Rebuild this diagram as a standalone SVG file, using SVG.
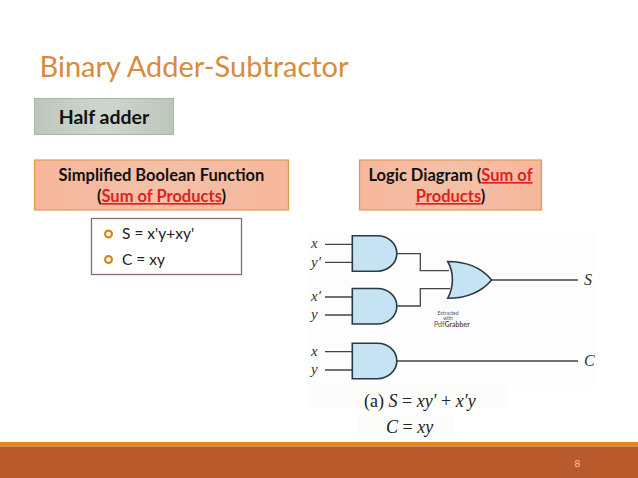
<svg xmlns="http://www.w3.org/2000/svg" width="638" height="478" viewBox="0 0 638 478">
<style>
text{font-family:Lato,"Open Sans","Liberation Sans",sans-serif}
.h{font-weight:700;font-size:16.5px;fill:#111;text-anchor:middle}
.r{fill:#e01f1f;text-decoration:underline}
.b{font-size:15.500px;fill:#222}
.m{font-family:"Liberation Serif",serif;font-style:italic;font-size:15px;fill:#333}
.e{font-family:"Liberation Serif",serif;font-size:18px;fill:#222}
.g{fill:#c5e3f2;stroke:#2a3a44;stroke-width:1.6}
.w{fill:none;stroke:#444;stroke-width:1.300}
.dot{fill:none;stroke:#d9861c;stroke-width:2.2}
</style>
<defs>
<linearGradient id="sal" x1="0" x2="1" y1="0" y2="0"><stop offset="0" stop-color="#f6b79c"/><stop offset="0.5" stop-color="#f4c0a8"/><stop offset="1" stop-color="#f6b79c"/></linearGradient>
<linearGradient id="gry" x1="0" x2="1" y1="0" y2="0"><stop offset="0" stop-color="#bcc7bb"/><stop offset="0.5" stop-color="#cdd6cc"/><stop offset="1" stop-color="#bcc7bb"/></linearGradient>
<path id="and" d="M0 0H25C36 0 44.500 8 44.500 17.700S36 35.500 25 35.500H0Z"/>
</defs>
<rect width="638" height="478" fill="#fff"/>
<rect x="307" y="232" width="287" height="155" fill="#fdfdfd"/>
<rect x="307" y="387" width="200" height="21" fill="#fcfcfb"/>
<rect x="358" y="415" width="96" height="22" fill="#fcfcfb"/>
<g id="title"><text x="39.500" y="76.500" font-size="29" fill="#d98a3c">Binary Adder-Subtractor</text></g>
<g id="half-adder"><rect x="34.500" y="98.500" width="139" height="36" fill="url(#gry)" stroke="#a9b5a9"/><text class="h" x="104" y="123.500" style="font-size:19.500px">Half adder</text></g>
<g id="boolean"><rect x="34.500" y="160" width="254" height="50" fill="url(#sal)" stroke="#e39a4e" stroke-width="1.200"/>
<text class="h" x="161.500" y="181">Simplified Boolean Function</text>
<text class="h" x="161.500" y="202">(<tspan class="r">Sum of Products</tspan>)</text></g>
<g id="logic-title"><rect x="359.500" y="160" width="182" height="50" fill="url(#sal)" stroke="#e39a4e" stroke-width="1.200"/>
<text class="h" x="450.500" y="181">Logic Diagram (<tspan class="r">Sum of</tspan></text>
<text class="h" x="450.500" y="202"><tspan class="r">Products</tspan>)</text></g>
<g id="equations"><rect x="91.500" y="218.500" width="150" height="56" fill="#fff" stroke="#8a6d6a" stroke-width="1.300"/>
<circle class="dot" cx="108.500" cy="234" r="3.400"/><circle class="dot" cx="108.500" cy="259.500" r="3.400"/>
<text class="b" x="122" y="239">S = x'y+xy'</text><text class="b" x="122" y="264.500">C = xy</text></g>
<g id="connectors">
<path class="w" d="M325 244.300H352M325 262.300H352M325 297H352M325 315H352M325 351.700H352M325 370H352"/>
<path class="w" d="M397 253.700H420.300V270.700H449M397 306H420.300V288.700H450M491.700 280H578M397 361H578"/>
</g>
<g id="and1"><use href="#and" class="g" x="352.300" y="235.700"/></g>
<g id="and2"><use href="#and" class="g" x="352.300" y="288.500"/></g>
<g id="and3"><use href="#and" class="g" x="352.300" y="343.200"/></g>
<g id="or"><path class="g" d="M447.700 261.500C465 261.500 481 267 491.700 280C481 292.500 465 298.300 447.700 298.300C454 287 454 272 447.700 261.500Z"/></g>
<g id="labels">
<text class="m" x="311" y="248">x</text><text class="m" x="311" y="267">y′</text>
<text class="m" x="311" y="301">x′</text><text class="m" x="311" y="319">y</text>
<text class="m" x="311" y="356">x</text><text class="m" x="311" y="374">y</text>
<text class="m" x="584" y="285" style="font-size:16px">S</text><text class="m" x="584" y="366" style="font-size:16px">C</text>
</g>
<g id="watermark" text-anchor="middle" fill="#555"><text x="448" y="314.500" font-size="5">Extracted</text><text x="448" y="320" font-size="5">with</text><text x="452" y="327" font-size="7">Pdf<tspan font-weight="700">Grabber</tspan></text></g>
<g id="formula"><text class="e" x="364" y="407">(a) <tspan font-style="italic">S</tspan> = <tspan font-style="italic">xy′</tspan> + <tspan font-style="italic">x′y</tspan></text>
<text class="e" x="386" y="433" font-style="italic">C <tspan font-style="normal">=</tspan> xy</text></g>
<g id="footer"><rect y="442" width="638" height="4.500" fill="#e08a1e"/><rect y="446.500" width="638" height="31.500" fill="#b95a2c"/><text x="577.500" y="467" font-size="10" text-anchor="middle" fill="#f6c7a8">8</text></g>
</svg>
